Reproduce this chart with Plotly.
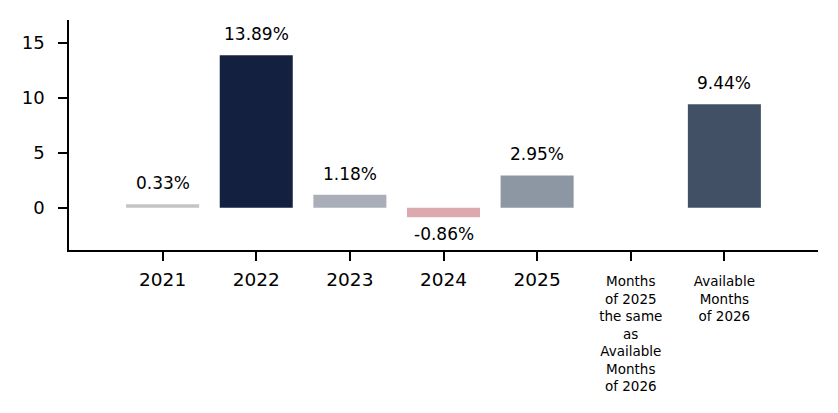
import plotly.graph_objects as go

categories = ["2021", "2022", "2023", "2024", "2025",
              "Months of 2025 the same as Available Months of 2026",
              "Available Months of 2026"]
tick_labels = ["2021", "2022", "2023", "2024", "2025",
               "Months<br>of 2025<br>the same<br>as<br>Available<br>Months<br>of 2026",
               "Available<br>Months<br>of 2026"]
values = [0.33, 13.89, 1.18, -0.86, 2.95, None, 9.44]
bar_colors = ["#c4c4c4", "#13203f", "#a9aeb9", "#dcaaae", "#8d97a3", "#ffffff", "#425066"]

FONT = "DejaVu Sans"
x_idx = list(range(len(categories)))

fig = go.Figure()
fig.add_trace(go.Bar(
    x=x_idx, y=values, width=0.78,
    marker=dict(color=bar_colors, line=dict(width=0)),
    hoverinfo="skip",
))

for i, v in enumerate(values):
    if v is None:
        continue
    fig.add_annotation(
        x=i, y=v, xref="x", yref="y",
        text=f"{v:.2f}%", showarrow=False,
        yanchor="bottom" if v >= 0 else "top",
        yshift=9 if v >= 0 else -5,
        font=dict(family=FONT, size=17, color="black"),
    )

ticktext = []
for t in tick_labels:
    if "<br>" in t:
        ticktext.append(t)
    else:
        ticktext.append(f"<span style='font-size:18.5px'>{t}</span>")

fig.update_layout(
    width=838, height=413,
    margin=dict(l=69, r=20, t=20, b=163),
    paper_bgcolor="white", plot_bgcolor="white",
    showlegend=False,
    font=dict(family=FONT, color="black"),
    xaxis=dict(
        range=[-1, 7], tickvals=x_idx, ticktext=ticktext,
        tickfont=dict(family=FONT, size=13.5, color="black"),
        showline=True, linecolor="black", linewidth=1.6,
        ticks="outside", ticklen=9, tickwidth=1.6, tickcolor="black",
        ticklabelstandoff=9,
        showgrid=False, zeroline=False, tickangle=0,
    ),
    yaxis=dict(
        range=[-3.84, 17.1], tickvals=[0, 5, 10, 15],
        tickfont=dict(family=FONT, size=18, color="black"),
        showline=True, linecolor="black", linewidth=1.6,
        ticks="outside", ticklen=9, tickwidth=1.6, tickcolor="black",
        ticklabelstandoff=10,
        showgrid=False, zeroline=False,
    ),
)

fig.write_html("out.html")
